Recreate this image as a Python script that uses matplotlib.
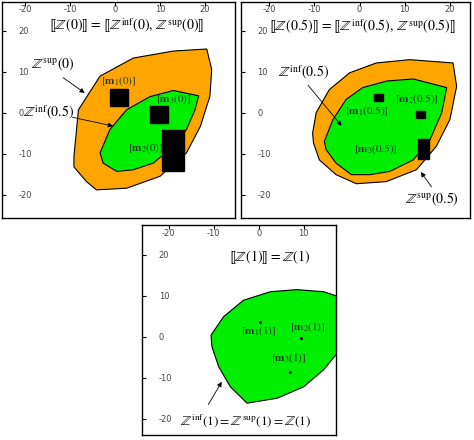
import matplotlib
matplotlib.use("Agg")
import matplotlib.pyplot as plt
from matplotlib.patches import Polygon, Rectangle

plt.rcParams['mathtext.fontset'] = 'stix'
plt.rcParams['font.family'] = ['DejaVu Serif']

ORANGE = '#ffa500'
GREEN = '#00ee00'
TXT = '#1e3a1e'

# Panel 1 (alpha = 0)
p1_outer = [(-9.1, -10.7), (-8.1, 0.7), (-3.3, 8.9), (4.1, 13.3), (13, 15), (20.4, 15.5),
            (21.5, 10.5), (21.1, 4), (19, -3.3), (15.9, -9.8), (10, -15.5), (2.6, -18.4),
            (-4.1, -18.8), (-6.3, -16.8), (-9.1, -13.2)]
p1_inner = [(-3.3, -9.8), (-1.1, -4.1), (2.6, 0.7), (7.8, 3.9), (13, 5.4), (18.6, 4.1),
            (17.8, 0.7), (15.9, -4.1), (13, -8.2), (8.5, -12.3), (4.1, -13.9), (0.4, -14.3),
            (-2.6, -12.3)]
p1_boxes = [(-1.1, 1.7, 4.1, 4.1), (7.8, -2.4, 3.9, 4.1), (10.4, -14.1, 5.0, 9.8)]  # x, y, w, h

# Panel 2 (alpha = 0.5)
p2_outer = [(-10.4, -5), (-9.6, 0), (-6.7, 5.6), (-2.2, 9.7), (3.7, 12.1), (11.1, 12.9),
            (20.7, 12.1), (21.5, 6.4), (20, -1.7), (17, -8.2), (12.6, -13.9), (5.9, -16.8),
            (-0.7, -17.3), (-5.2, -15.1), (-8.9, -11.5), (-10.2, -7.4)]
p2_inner = [(-7.8, -7), (-5.9, -1.7), (-3.0, 3.2), (0.7, 6.1), (6, 7.7), (11.9, 8.2),
            (19.3, 6.1), (18.2, 0), (15.6, -6.6), (11.9, -11.5), (6.7, -14.3), (2.3, -15.1),
            (-1.8, -15.1), (-5.2, -12.3), (-7.4, -9)]
p2_boxes = [(3.3, 2.8, 1.9, 1.8), (12.4, -1.3, 2.0, 1.8), (12.9, -11.3, 2.5, 4.9)]

# Panel 3 (alpha = 1)
p3_shape = [(-10.6, 0.4), (-7.8, 4.9), (-3.4, 8.9), (2.6, 11), (8.5, 11.5), (14.4, 11),
            (18.9, 9.4), (19.3, 1.7), (17.4, -4.1), (14.4, -8.1), (10, -12.2), (4.1, -15),
            (-2.6, -16.2), (-6.3, -12.2), (-8.9, -7.3), (-10.4, -2.4)]
p3_pts_x = [0.2, 9.3, 7.0]
p3_pts_y = [3.5, -0.4, -8.5]

fig = plt.figure(figsize=(4.74, 4.4), dpi=100)

def setup(ax, xlim, ylim, xticks):
    ax.set_xlim(*xlim); ax.set_ylim(*ylim)
    ax.set_xticks(xticks); ax.set_xticklabels([str(t) for t in xticks])
    ax.set_yticks([-20, -10, 0, 10, 20]); ax.set_yticklabels(['-20', '-10', '0', '10', '20'])
    ax.tick_params(axis='x', direction='in', top=True, bottom=False, labeltop=True,
                   labelbottom=False, pad=-9, length=3, labelsize=6,
                   labelcolor='#444444', labelfontfamily='DejaVu Sans')
    ax.tick_params(axis='y', direction='in', left=True, right=False, pad=-12, length=3,
                   labelsize=6, labelcolor='#444444', labelfontfamily='DejaVu Sans')
    for lab in ax.get_yticklabels():
        lab.set_horizontalalignment('left')
    for s in ax.spines.values():
        s.set_linewidth(1.0)

def arrow(ax, txt_xy, tip_xy):
    ax.annotate('', xy=tip_xy, xytext=txt_xy,
                arrowprops=dict(arrowstyle='-|>', color='black', lw=0.6, mutation_scale=7))

# ---- Panel 1
ax1 = fig.add_axes([0.004, 0.505, 0.492, 0.491])
setup(ax1, (-25.1, 26.7), (-25.6, 27), [-20, -10, 0, 10, 20])
ax1.add_patch(Polygon(p1_outer, closed=True, fc=ORANGE, ec='black', lw=0.8))
ax1.add_patch(Polygon(p1_inner, closed=True, fc=GREEN, ec='black', lw=0.8))
for (x, y, w, h) in p1_boxes:
    ax1.add_patch(Rectangle((x, y), w, h, fc='black', ec='black'))
ax1.text(2.5, 21.2, r'$⟦\mathbb{Z}(0)⟧ = ⟦\mathbb{Z}^{\rm inf}(0),\, \mathbb{Z}^{\rm sup}(0)⟧$',
         ha='center', va='center', fontsize=10)
ax1.text(-13.8, 11.7, r'$\mathbb{Z}^{\rm sup}(0)$', ha='center', va='center', fontsize=10)
arrow(ax1, (-12.0, 8.9), (-6.2, 4.4))
ax1.text(-14.8, 0.0, r'$\mathbb{Z}^{\rm inf}(0.5)$', ha='center', va='center', fontsize=10)
arrow(ax1, (-10.0, -1.0), (0.2, -3.4))
ax1.text(0.9, 7.8, r'$[\mathbf{m}_1(0)]$', ha='center', va='center', fontsize=8, color=TXT)
ax1.text(13, 3.2, r'$[\mathbf{m}_3(0)]$', ha='center', va='center', fontsize=8, color=TXT)
ax1.text(6.9, -8.6, r'$[\mathbf{m}_2(0)]$', ha='center', va='center', fontsize=8, color=TXT)

# ---- Panel 2
ax2 = fig.add_axes([0.508, 0.505, 0.483, 0.491])
setup(ax2, (-26.3, 24.4), (-25.6, 27), [-20, -10, 0, 10, 20])
ax2.add_patch(Polygon(p2_outer, closed=True, fc=ORANGE, ec='black', lw=0.8))
ax2.add_patch(Polygon(p2_inner, closed=True, fc=GREEN, ec='black', lw=0.8))
for (x, y, w, h) in p2_boxes:
    ax2.add_patch(Rectangle((x, y), w, h, fc='black', ec='black'))
ax2.text(0.4, 21, r'$⟦\mathbb{Z}(0.5)⟧ = ⟦\mathbb{Z}^{\rm inf}(0.5),\, \mathbb{Z}^{\rm sup}(0.5)⟧$',
         ha='center', va='center', fontsize=10)
ax2.text(-12.3, 9.7, r'$\mathbb{Z}^{\rm inf}(0.5)$', ha='center', va='center', fontsize=10)
arrow(ax2, (-11.8, 7.2), (-3.6, -3.7))
ax2.text(16.0, -21, r'$\mathbb{Z}^{\rm sup}(0.5)$', ha='center', va='center', fontsize=10)
arrow(ax2, (16.3, -18.6), (13.2, -13.9))
ax2.text(1.7, 0.5, r'$[\mathbf{m}_1(0.5)]$', ha='center', va='center', fontsize=8, color=TXT)
ax2.text(12.6, 3.2, r'$[\mathbf{m}_2(0.5)]$', ha='center', va='center', fontsize=8, color=TXT)
ax2.text(3.7, -8.8, r'$[\mathbf{m}_3(0.5)]$', ha='center', va='center', fontsize=8, color=TXT)

# ---- Panel 3
ax3 = fig.add_axes([0.3, 0.011, 0.409, 0.477])
setup(ax3, (-25.9, 17.2), (-24, 27.2), [-20, -10, 0, 10])
ax3.add_patch(Polygon(p3_shape, closed=True, fc=GREEN, ec='black', lw=0.8))
ax3.scatter(p3_pts_x, p3_pts_y, s=1.5, color='black', zorder=3)
ax3.text(2.2, 19.4, r'$⟦\mathbb{Z}(1)⟧ = \mathbb{Z}(1)$', ha='center', va='center', fontsize=10)
ax3.text(-3.0, -20.5, r'$\mathbb{Z}^{\rm inf}(1) = \mathbb{Z}^{\rm sup}(1) = \mathbb{Z}(1)$',
         ha='center', va='center', fontsize=9.5)
arrow(ax3, (-11.5, -17.1), (-7.9, -10.4))
ax3.text(0, 1.4, r'$[\mathbf{m}_1(1)]$', ha='center', va='center', fontsize=8, color=TXT)
ax3.text(10.9, 2.3, r'$[\mathbf{m}_2(1)]$', ha='center', va='center', fontsize=8, color=TXT)
ax3.text(6.7, -5.3, r'$[\mathbf{m}_3(1)]$', ha='center', va='center', fontsize=8, color=TXT)

fig.savefig('out.png', dpi=100)
